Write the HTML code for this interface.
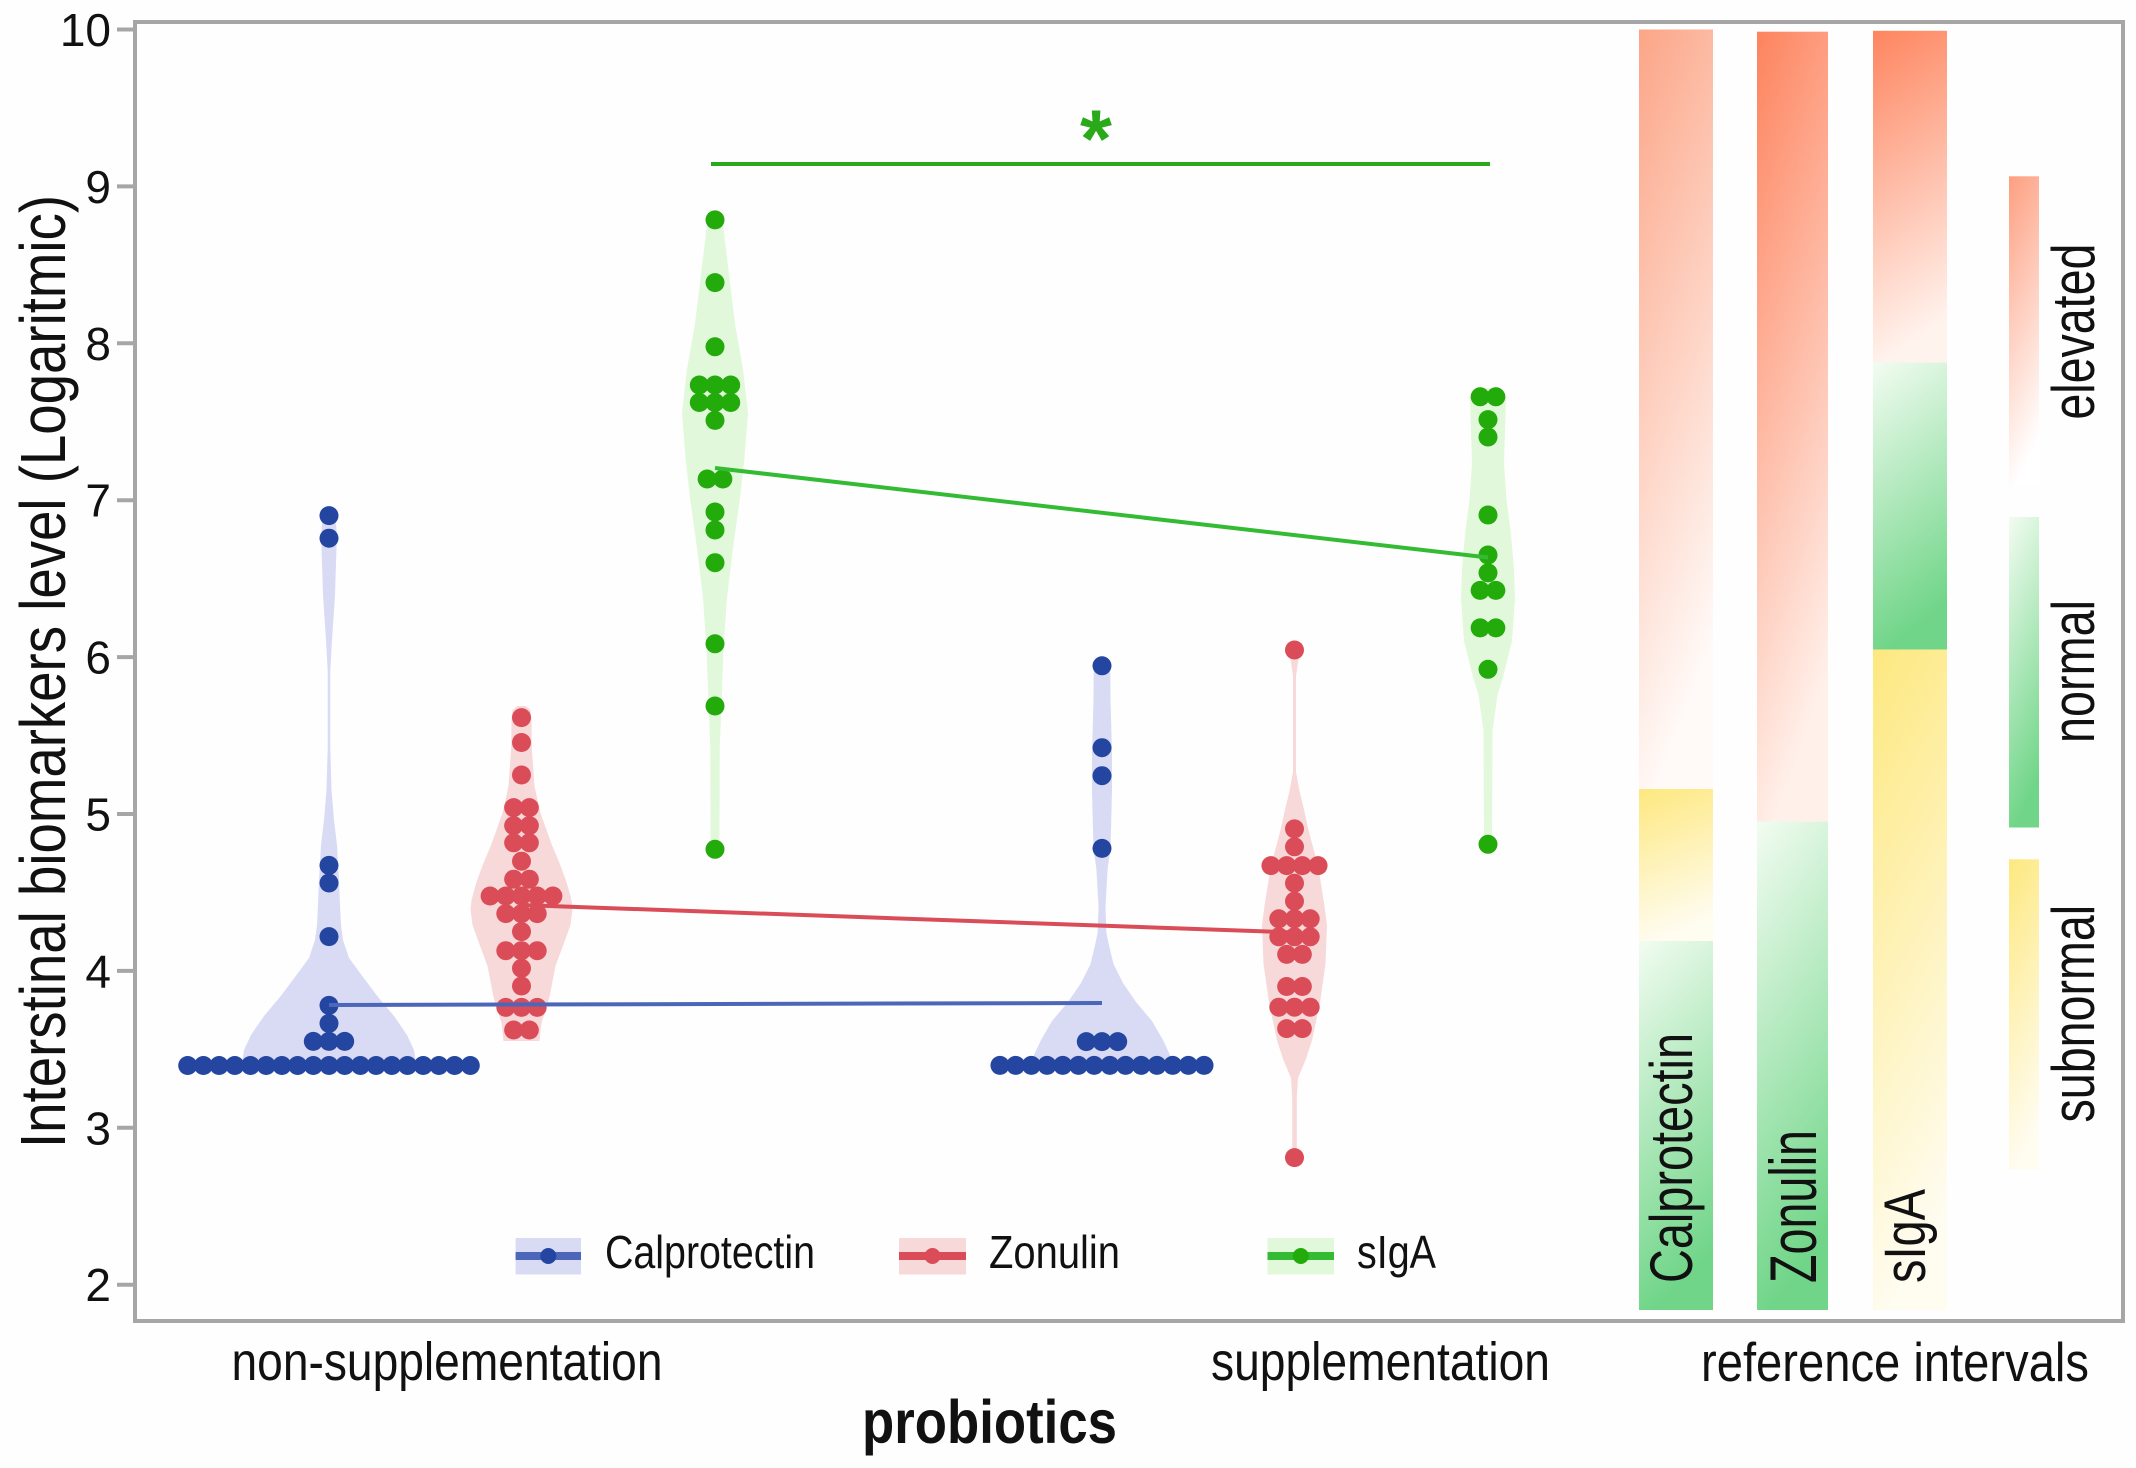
<!DOCTYPE html>
<html><head><meta charset="utf-8"><style>
html,body{margin:0;padding:0;background:#fefefe;}
svg{display:block;}
text{font-family:"Liberation Sans",Arial,sans-serif;fill:#111;}
</style></head><body>
<svg width="2136" height="1468" viewBox="0 0 2136 1468" xmlns="http://www.w3.org/2000/svg">
<defs>
<linearGradient id="gCalE" x1="0" y1="0" x2="0.25" y2="1"><stop offset="0" stop-color="#fca587"/><stop offset="1" stop-color="#fffaf8"/></linearGradient>
<linearGradient id="gZonE" x1="0" y1="0" x2="0.25" y2="1"><stop offset="0" stop-color="#fd835e"/><stop offset="1" stop-color="#fff0ea"/></linearGradient>
<linearGradient id="gIgE" x1="0" y1="0" x2="0.15" y2="1"><stop offset="0" stop-color="#fe855f"/><stop offset="1" stop-color="#fff3ee"/></linearGradient>
<linearGradient id="gGreen" x1="0" y1="0" x2="0.2" y2="1"><stop offset="0" stop-color="#f2fcf1"/><stop offset="1" stop-color="#70d588"/></linearGradient>
<linearGradient id="gYel" x1="0" y1="0" x2="0.2" y2="1"><stop offset="0" stop-color="#fde87f"/><stop offset="1" stop-color="#fffcf0"/></linearGradient>
<linearGradient id="gLegE" x1="0" y1="0" x2="0.2" y2="1"><stop offset="0" stop-color="#fd9f80"/><stop offset="1" stop-color="#ffffff"/></linearGradient>
</defs>
<rect width="2136" height="1468" fill="#fefefe"/>

<!-- reference bars -->
<rect x="1639" y="29.5" width="74" height="759.5" fill="url(#gCalE)"/>
<rect x="1639" y="789" width="74" height="152" fill="url(#gYel)"/>
<rect x="1639" y="941" width="74" height="369" fill="url(#gGreen)"/>
<rect x="1757" y="31.7" width="71" height="790" fill="url(#gZonE)"/>
<rect x="1757" y="821.6" width="71" height="488.4" fill="url(#gGreen)"/>
<rect x="1873" y="30.8" width="74" height="331.7" fill="url(#gIgE)"/>
<rect x="1873" y="362.5" width="74" height="287.1" fill="url(#gGreen)"/>
<rect x="1873" y="649.6" width="74" height="660.4" fill="url(#gYel)"/>
<rect x="2009" y="176.3" width="30" height="310.3" fill="url(#gLegE)"/>
<rect x="2009" y="517" width="30" height="310.5" fill="url(#gGreen)"/>
<rect x="2009" y="859.3" width="30" height="310.3" fill="url(#gYel)"/>

<text transform="translate(1692,1283) rotate(-90)" font-size="60" textLength="250" lengthAdjust="spacingAndGlyphs">Calprotectin</text>
<text transform="translate(1816,1283) rotate(-90)" font-size="66" textLength="153" lengthAdjust="spacingAndGlyphs">Zonulin</text>
<text transform="translate(1925,1283) rotate(-90)" font-size="58" textLength="94" lengthAdjust="spacingAndGlyphs">sIgA</text>
<text transform="translate(2094,419.6) rotate(-90)" font-size="60" textLength="176" lengthAdjust="spacingAndGlyphs">elevated</text>
<text transform="translate(2094,743) rotate(-90)" font-size="60" textLength="143" lengthAdjust="spacingAndGlyphs">normal</text>
<text transform="translate(2094,1122.5) rotate(-90)" font-size="60" textLength="217.6" lengthAdjust="spacingAndGlyphs">subnormal</text>

<!-- violins -->
<polygon fill="#d9dbf5" points="331,513 335,518 336.5,528 336.6,545 335,595 332,640 330.3,671 330.3,748 331.5,790 334,820 337,845 339,880 340,905 341,925 343,940 349,958 363,977 378,997 394,1016 407,1035 414,1050 416,1063 242,1063 244,1050 251,1035 264,1016 280,997 295,977 309,958 315,940 317,925 318,905 319,880 321,845 324,820 326.5,790 327.7,748 327.7,671 326,640 323,595 321.4,545 321.5,528 323,518 327,513"/>
<polygon fill="#f8d9d9" points="525.5,706 530.5,710 531.5,720 531.8,748 534.5,786 540.5,813 551.5,844 559.5,863 566.5,882 571.5,900 572.5,909 570.5,925 565.5,939 555.5,966 549.5,997 541.5,1023 539.5,1041 503.5,1041 501.5,1023 493.5,997 487.5,966 477.5,939 472.5,925 470.5,909 471.5,900 476.5,882 483.5,863 491.5,844 502.5,813 508.5,786 511.2,748 511.5,720 512.5,710 517.5,706"/>
<polygon fill="#e2f8da" points="718,211 722,216 723,225 729,274 735,324 743,369 748,413 744.5,458 740,498 733,548 727,598 723.6,647 721.7,697 719.8,747 719.4,846 717,852 713,852 710.6,846 710.2,747 708.3,697 706.4,647 703,598 697,548 690,498 685.5,458 682,413 687,369 695,324 701,274 707,225 708,216 712,211"/>
<polygon fill="#d9dbf5" points="1105,658 1109,663 1110.3,672 1110.5,700 1112,753 1112,791 1110.5,849 1107.7,868 1105.5,906 1106.4,933 1108.7,944 1113.5,964 1123,983 1136,1002 1152,1021 1163,1040 1170,1055 1171,1063 1033,1063 1034,1055 1041,1040 1052,1021 1068,1002 1081,983 1090.5,964 1095.3,944 1097.6,933 1098.5,906 1096.3,868 1093.5,849 1092,791 1092,753 1093.5,700 1093.7,672 1095,663 1099,658"/>
<polygon fill="#f8d9d9" points="1296.5,642 1299.5,647 1299,656 1296,676 1296,772 1299.5,791 1304.1,810 1308.5,830 1313.5,849 1318.5,868 1324.5,906 1327,925 1325.5,964 1320.1,1002 1312.1,1040 1306,1059 1298,1078 1296.8,1098 1296.8,1151 1296.5,1162 1292.5,1162 1292.2,1151 1292.2,1098 1291,1078 1283,1059 1276.9,1040 1268.9,1002 1263.5,964 1262,925 1264.5,906 1270.5,868 1275.5,849 1280.5,830 1284.9,810 1289.5,791 1293,772 1293,676 1290,656 1289.5,647 1292.5,642"/>
<polygon fill="#e2f8da" points="1500,388 1506,397 1505,430 1504,463 1506.4,499 1511,534 1514,570 1515,599 1512,641 1503,677 1497.5,695 1492.5,731 1492,838 1490,848 1486,848 1484,838 1483.5,731 1478.5,695 1473,677 1464,641 1461,599 1462,570 1465,534 1469.6,499 1472,463 1471,430 1470,397 1476,388"/>

<!-- red mean line (under dots) -->
<line x1="521.5" y1="905" x2="1294.5" y2="932.5" stroke="#d94c58" stroke-width="4"/>

<!-- dots -->
<g fill="#2546a0">
<circle cx="329" cy="515.6" r="9.5"/><circle cx="329" cy="538.2" r="9.5"/><circle cx="329" cy="865.4" r="9.5"/><circle cx="329" cy="883" r="9.5"/><circle cx="329" cy="936.6" r="9.5"/><circle cx="329" cy="1005.4" r="9.5"/><circle cx="329" cy="1023.4" r="9.5"/>
<circle cx="313.3" cy="1041.4" r="9.5"/><circle cx="329" cy="1041.4" r="9.5"/><circle cx="344.7" cy="1041.4" r="9.5"/>
<circle cx="187.7" cy="1065.5" r="9.5"/><circle cx="203.4" cy="1065.5" r="9.5"/><circle cx="219.1" cy="1065.5" r="9.5"/><circle cx="234.8" cy="1065.5" r="9.5"/><circle cx="250.5" cy="1065.5" r="9.5"/><circle cx="266.2" cy="1065.5" r="9.5"/><circle cx="281.9" cy="1065.5" r="9.5"/><circle cx="297.6" cy="1065.5" r="9.5"/><circle cx="313.3" cy="1065.5" r="9.5"/><circle cx="329" cy="1065.5" r="9.5"/><circle cx="344.7" cy="1065.5" r="9.5"/><circle cx="360.4" cy="1065.5" r="9.5"/><circle cx="376.1" cy="1065.5" r="9.5"/><circle cx="391.8" cy="1065.5" r="9.5"/><circle cx="407.5" cy="1065.5" r="9.5"/><circle cx="423.2" cy="1065.5" r="9.5"/><circle cx="438.9" cy="1065.5" r="9.5"/><circle cx="454.6" cy="1065.5" r="9.5"/><circle cx="470.3" cy="1065.5" r="9.5"/>
<circle cx="1102" cy="665.8" r="9.5"/><circle cx="1102" cy="747.7" r="9.5"/><circle cx="1102" cy="775.7" r="9.5"/><circle cx="1102" cy="848.4" r="9.5"/>
<circle cx="1086.3" cy="1041.6" r="9.5"/><circle cx="1102" cy="1041.6" r="9.5"/><circle cx="1117.7" cy="1041.6" r="9.5"/>
<circle cx="999.95" cy="1065.4" r="9.5"/><circle cx="1015.65" cy="1065.4" r="9.5"/><circle cx="1031.35" cy="1065.4" r="9.5"/><circle cx="1047.05" cy="1065.4" r="9.5"/><circle cx="1062.75" cy="1065.4" r="9.5"/><circle cx="1078.45" cy="1065.4" r="9.5"/><circle cx="1094.15" cy="1065.4" r="9.5"/><circle cx="1109.85" cy="1065.4" r="9.5"/><circle cx="1125.55" cy="1065.4" r="9.5"/><circle cx="1141.25" cy="1065.4" r="9.5"/><circle cx="1156.95" cy="1065.4" r="9.5"/><circle cx="1172.65" cy="1065.4" r="9.5"/><circle cx="1188.35" cy="1065.4" r="9.5"/><circle cx="1204.05" cy="1065.4" r="9.5"/>
</g>
<g fill="#db4c59">
<circle cx="521.5" cy="717.6" r="9.5"/><circle cx="521.5" cy="742.5" r="9.5"/><circle cx="521.5" cy="775" r="9.5"/>
<circle cx="513.65" cy="807.6" r="9.5"/><circle cx="529.35" cy="807.6" r="9.5"/>
<circle cx="513.65" cy="825.6" r="9.5"/><circle cx="529.35" cy="825.6" r="9.5"/>
<circle cx="513.65" cy="842.8" r="9.5"/><circle cx="529.35" cy="842.8" r="9.5"/>
<circle cx="521.5" cy="861.2" r="9.5"/>
<circle cx="513.65" cy="879.2" r="9.5"/><circle cx="529.35" cy="879.2" r="9.5"/>
<circle cx="490.1" cy="896" r="9.5"/><circle cx="505.8" cy="896" r="9.5"/><circle cx="521.5" cy="896" r="9.5"/><circle cx="537.2" cy="896" r="9.5"/><circle cx="552.9" cy="896" r="9.5"/>
<circle cx="505.8" cy="913.6" r="9.5"/><circle cx="521.5" cy="913.6" r="9.5"/><circle cx="537.2" cy="913.6" r="9.5"/>
<circle cx="521.5" cy="931.6" r="9.5"/>
<circle cx="505.8" cy="950.7" r="9.5"/><circle cx="521.5" cy="950.7" r="9.5"/><circle cx="537.2" cy="950.7" r="9.5"/>
<circle cx="521.5" cy="968.3" r="9.5"/><circle cx="521.5" cy="986" r="9.5"/>
<circle cx="505.8" cy="1007.4" r="9.5"/><circle cx="521.5" cy="1007.4" r="9.5"/><circle cx="537.2" cy="1007.4" r="9.5"/>
<circle cx="513.65" cy="1030" r="9.5"/><circle cx="529.35" cy="1030" r="9.5"/>

<circle cx="1294.5" cy="650" r="9.5"/><circle cx="1294.5" cy="828.9" r="9.5"/><circle cx="1294.5" cy="846.8" r="9.5"/>
<circle cx="1270.95" cy="865.6" r="9.5"/><circle cx="1286.65" cy="865.6" r="9.5"/><circle cx="1302.35" cy="865.6" r="9.5"/><circle cx="1318.05" cy="865.6" r="9.5"/>
<circle cx="1294.5" cy="883.2" r="9.5"/><circle cx="1294.5" cy="901.2" r="9.5"/>
<circle cx="1278.8" cy="918.8" r="9.5"/><circle cx="1294.5" cy="918.8" r="9.5"/><circle cx="1310.2" cy="918.8" r="9.5"/>
<circle cx="1278.8" cy="936.8" r="9.5"/><circle cx="1294.5" cy="936.8" r="9.5"/><circle cx="1310.2" cy="936.8" r="9.5"/>
<circle cx="1286.65" cy="954.4" r="9.5"/><circle cx="1302.35" cy="954.4" r="9.5"/>
<circle cx="1286.65" cy="986.5" r="9.5"/><circle cx="1302.35" cy="986.5" r="9.5"/>
<circle cx="1278.8" cy="1007.2" r="9.5"/><circle cx="1294.5" cy="1007.2" r="9.5"/><circle cx="1310.2" cy="1007.2" r="9.5"/>
<circle cx="1286.65" cy="1028.6" r="9.5"/><circle cx="1302.35" cy="1028.6" r="9.5"/>
<circle cx="1294.5" cy="1157.6" r="9.5"/>
</g>
<g fill="#23ab0c">
<circle cx="715" cy="219.9" r="9.5"/><circle cx="715" cy="282.6" r="9.5"/><circle cx="715" cy="346.8" r="9.5"/>
<circle cx="699.3" cy="385" r="9.5"/><circle cx="715" cy="385" r="9.5"/><circle cx="730.7" cy="385" r="9.5"/>
<circle cx="699.3" cy="402.5" r="9.5"/><circle cx="715" cy="402.5" r="9.5"/><circle cx="730.7" cy="402.5" r="9.5"/>
<circle cx="715" cy="420.4" r="9.5"/>
<circle cx="707.15" cy="479" r="9.5"/><circle cx="722.85" cy="479" r="9.5"/>
<circle cx="715" cy="512" r="9.5"/><circle cx="715" cy="530" r="9.5"/><circle cx="715" cy="562.7" r="9.5"/><circle cx="715" cy="643.8" r="9.5"/><circle cx="715" cy="706" r="9.5"/><circle cx="715" cy="849.3" r="9.5"/>

<circle cx="1480.15" cy="396.8" r="9.5"/><circle cx="1495.85" cy="396.8" r="9.5"/>
<circle cx="1488" cy="419.6" r="9.5"/><circle cx="1488" cy="437" r="9.5"/><circle cx="1488" cy="515" r="9.5"/><circle cx="1488" cy="555" r="9.5"/><circle cx="1488" cy="572.9" r="9.5"/>
<circle cx="1480.15" cy="590.4" r="9.5"/><circle cx="1495.85" cy="590.4" r="9.5"/>
<circle cx="1480.15" cy="627.9" r="9.5"/><circle cx="1495.85" cy="627.9" r="9.5"/>
<circle cx="1488" cy="669.3" r="9.5"/><circle cx="1488" cy="844.3" r="9.5"/>
</g>

<!-- blue and green mean lines -->
<line x1="329" y1="1005" x2="1102" y2="1003" stroke="#4c66ba" stroke-width="4"/>
<line x1="715" y1="468" x2="1488" y2="557.5" stroke="#33bb33" stroke-width="4"/>

<!-- significance -->
<line x1="711" y1="164" x2="1490" y2="164" stroke="#2aaa1a" stroke-width="4"/>
<text x="1096" y="167" font-size="82" font-weight="bold" text-anchor="middle" style="fill:#2aaa1a">*</text>

<!-- frame & ticks -->
<rect x="135" y="22" width="1988" height="1299" fill="none" stroke="#a6a6a6" stroke-width="4"/>
<g stroke="#a6a6a6" stroke-width="4">
<line x1="117" y1="29.5" x2="135" y2="29.5"/>
<line x1="117" y1="186.4" x2="135" y2="186.4"/>
<line x1="117" y1="343.3" x2="135" y2="343.3"/>
<line x1="117" y1="500.2" x2="135" y2="500.2"/>
<line x1="117" y1="657.1" x2="135" y2="657.1"/>
<line x1="117" y1="814" x2="135" y2="814"/>
<line x1="117" y1="970.9" x2="135" y2="970.9"/>
<line x1="117" y1="1127.8" x2="135" y2="1127.8"/>
<line x1="117" y1="1284.7" x2="135" y2="1284.7"/>
</g>
<g font-size="46" text-anchor="end">
<text x="111" y="46">10</text>
<text x="111" y="202.9">9</text>
<text x="111" y="359.8">8</text>
<text x="111" y="516.7">7</text>
<text x="111" y="673.6">6</text>
<text x="111" y="830.5">5</text>
<text x="111" y="987.4">4</text>
<text x="111" y="1144.3">3</text>
<text x="111" y="1301.2">2</text>
</g>

<text transform="translate(65,1148) rotate(-90)" font-size="64" textLength="953" lengthAdjust="spacingAndGlyphs">Interstinal biomarkers level (Logaritmic)</text>

<!-- legend -->
<rect x="515.6" y="1238" width="65.4" height="36.5" fill="#d9dbf5"/>
<line x1="515.6" y1="1256" x2="581" y2="1256" stroke="#4c66ba" stroke-width="8"/>
<circle cx="548.3" cy="1256" r="8" fill="#2546a0"/>
<text x="605" y="1268" font-size="46" textLength="210" lengthAdjust="spacingAndGlyphs">Calprotectin</text>
<rect x="899" y="1238" width="67" height="36.5" fill="#f8d9d9"/>
<line x1="899" y1="1256" x2="966" y2="1256" stroke="#d94c58" stroke-width="8"/>
<circle cx="932.5" cy="1256" r="8" fill="#db4c59"/>
<text x="989" y="1268" font-size="46" textLength="131" lengthAdjust="spacingAndGlyphs">Zonulin</text>
<rect x="1267.5" y="1238" width="66.5" height="36.5" fill="#e2f8da"/>
<line x1="1267.5" y1="1256" x2="1334" y2="1256" stroke="#33bb33" stroke-width="8"/>
<circle cx="1300.8" cy="1256" r="8" fill="#23ab0c"/>
<text x="1357" y="1268" font-size="46" textLength="79" lengthAdjust="spacingAndGlyphs">sIgA</text>

<!-- x labels -->
<text x="231.5" y="1380" font-size="54" textLength="431" lengthAdjust="spacingAndGlyphs">non-supplementation</text>
<text x="1211" y="1380" font-size="54" textLength="339" lengthAdjust="spacingAndGlyphs">supplementation</text>
<text x="1701" y="1381" font-size="55" textLength="388" lengthAdjust="spacingAndGlyphs">reference intervals</text>
<text x="862" y="1443" font-size="61" font-weight="bold" textLength="255" lengthAdjust="spacingAndGlyphs">probiotics</text>
</svg>
</body></html>
